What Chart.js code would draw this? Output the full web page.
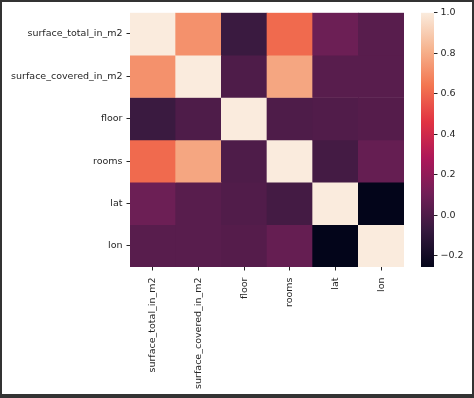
<!DOCTYPE html>
<html>
<head>
<meta charset="utf-8">
<script src="https://cdn.jsdelivr.net/npm/chart.js@4.4.1/dist/chart.umd.min.js"></script>
<style>
  html, body { margin: 0; padding: 0; background: #333333; }
  #frame { position: absolute; left: 2px; top: 2px; width: 470px; height: 392px; background: #ffffff; }
  canvas { position: absolute; left: 0; top: 0; }
</style>
</head>
<body>
<div id="frame"></div>
<canvas id="heat" width="474" height="398"></canvas>
<canvas id="cbar" width="474" height="398"></canvas>
<script>
// ---- data ----
const variables = ["surface_total_in_m2", "surface_covered_in_m2", "floor", "rooms", "lat", "lon"];
const surfaceTotal   = [1.00, 0.72, -0.06, 0.61, 0.09, 0.03];
const surfaceCovered = [0.72, 1.00, 0.00, 0.78, 0.03, 0.03];
const floorRow       = [-0.06, 0.00, 1.00, 0.00, 0.01, 0.02];
const rooms          = [0.61, 0.78, 0.00, 1.00, -0.03, 0.07];
const lat            = [0.09, 0.03, 0.01, -0.03, 1.00, -0.256];
const lon            = [0.03, 0.03, 0.02, 0.07, -0.256, 1.00];
const matrix = [surfaceTotal, surfaceCovered, floorRow, rooms, lat, lon];
const colorbarTicks = [-0.2, 0.0, 0.2, 0.4, 0.6, 0.8, 1.0];

// ---- colormap (seaborn "rocket") ----
const rocketStops = [
  [0/7, [3, 5, 26]],
  [1/7, [53, 25, 62]],
  [2/7, [112, 31, 87]],
  [3/7, [173, 23, 89]],
  [4/7, [225, 51, 66]],
  [5/7, [243, 118, 81]],
  [6/7, [246, 180, 143]],
  [7/7, [250, 235, 221]]
];
const allVals = matrix.flat();
const vmin = Math.min(...allVals);
const vmax = Math.max(...allVals);
function rocket(t) {
  t = Math.max(0, Math.min(1, t));
  for (let i = 1; i < rocketStops.length; i++) {
    const [t1, c1] = rocketStops[i];
    const [t0, c0] = rocketStops[i - 1];
    if (t <= t1) {
      const f = (t - t0) / (t1 - t0);
      const c = c0.map((v, k) => Math.round(v + (c1[k] - v) * f));
      return `rgb(${c[0]},${c[1]},${c[2]})`;
    }
  }
  const c = rocketStops[rocketStops.length - 1][1];
  return `rgb(${c[0]},${c[1]},${c[2]})`;
}
const colorFor = v => rocket((v - vmin) / (vmax - vmin));

const FONT = { family: "'DejaVu Sans', sans-serif", size: 9.5 };
const TXT = '#262626';

// ---- heatmap ----
const datasets = matrix.map((row, i) => ({
  label: variables[i],
  data: row.map(() => [i, i + 1]),
  backgroundColor: row.map(colorFor),
  borderWidth: 0,
  borderSkipped: false,
  barPercentage: 1.0,
  categoryPercentage: 1.0,
  grouped: false
}));

new Chart(document.getElementById('heat'), {
  type: 'bar',
  data: { labels: variables, datasets },
  options: {
    responsive: false,
    animation: false,
    plugins: { legend: { display: false }, tooltip: { enabled: false } },
    layout: { padding: { left: 0, top: 12.7, right: 70, bottom: 0 } },
    scales: {
      x: {
        type: 'category',
        offset: true,
        grid: { display: true, drawOnChartArea: false, drawTicks: true, tickLength: 3.5, color: TXT, offset: false },
        border: { display: false },
        ticks: { color: TXT, font: FONT, minRotation: 90, maxRotation: 90, padding: 7, autoSkip: false },
        afterFit: s => { s.height = 131; }
      },
      y: {
        type: 'linear',
        min: 0, max: variables.length,
        reverse: true,
        grid: { display: true, drawOnChartArea: false, drawTicks: true, tickLength: 3.5, color: TXT },
        border: { display: false },
        afterBuildTicks: s => { s.ticks = variables.map((_, i) => ({ value: i + 0.5 })); },
        ticks: { color: TXT, font: FONT, padding: 4, autoSkip: false,
                 callback: (v, idx) => variables[idx] },
        afterFit: s => { s.width = 130; }
      }
    }
  }
});

// ---- colorbar ----
new Chart(document.getElementById('cbar'), {
  type: 'bar',
  data: {
    labels: ['cbar'],
    datasets: [{
      data: [[vmin, vmax]],
      borderWidth: 0,
      barPercentage: 1.0,
      categoryPercentage: 1.0,
      backgroundColor: ctx => {
        const chart = ctx.chart;
        const ys = chart.scales.y;
        if (!ys || !chart.chartArea) return 'transparent';
        const g = chart.ctx.createLinearGradient(0, ys.getPixelForValue(vmin), 0, ys.getPixelForValue(vmax));
        rocketStops.forEach(([t, c]) => g.addColorStop(t, `rgb(${c[0]},${c[1]},${c[2]})`));
        return g;
      }
    }]
  },
  options: {
    responsive: false,
    animation: false,
    plugins: { legend: { display: false }, tooltip: { enabled: false } },
    layout: { padding: { left: 421, top: 12.7, right: 0, bottom: 131 } },
    scales: {
      x: { display: false },
      y: {
        position: 'right',
        min: vmin, max: vmax,
        grid: { display: true, drawOnChartArea: false, drawTicks: true, tickLength: 3.5, color: TXT },
        border: { display: false },
        afterBuildTicks: s => { s.ticks = colorbarTicks.map(v => ({ value: v })); },
        ticks: { color: TXT, font: FONT, padding: 3,
                 callback: v => (v < 0 ? '\u2212' : '') + Math.abs(v).toFixed(1) },
        afterFit: s => { s.width = 40; }
      }
    }
  }
});
</script>
</body>
</html>
